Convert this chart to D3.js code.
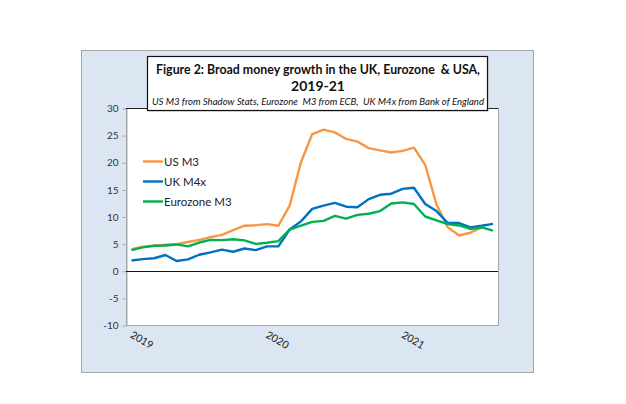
<!DOCTYPE html>
<html>
<head>
<meta charset="utf-8">
<script src="https://cdn.jsdelivr.net/npm/d3@7"></script>
<style>
  body { margin: 0; background: #fff; }
  svg { display: block; font-family: Lato, "Open Sans", sans-serif; }
  .pre { white-space: pre; }
</style>
</head>
<body>
<div id="chart"></div>
<script>
// monthly, Jan 2019 .. Sep 2021
const months = d3.range(33)
const us_m3 = [4.0, 4.45, 4.6, 4.8, 4.9, 5.3, 5.7, 6.2, 6.6, 7.5, 8.3, 8.4, 8.6, 8.3, 12.0, 20.0,
    25.2, 26.0, 25.5, 24.3, 23.8, 22.6, 22.2, 21.8, 22.1, 22.7, 19.5, 12.2, 8.0, 6.5, 7.0, 8.0]
const uk_m4x = [1.9, 2.15, 2.3, 2.9, 1.8, 2.1, 2.95, 3.4, 3.9, 3.5, 4.1, 3.8, 4.5, 4.5, 7.6, 9.1,
    11.4, 12.0, 12.5, 11.8, 11.7, 13.2, 14.0, 14.2, 15.1, 15.3, 12.3, 11.0, 8.8, 8.8, 8.0, 8.3, 8.65]
const ez_m3 = [3.8, 4.3, 4.6, 4.65, 4.85, 4.5, 5.2, 5.7, 5.65, 5.8, 5.6, 4.95, 5.15, 5.45, 7.6, 8.3,
    9.0, 9.2, 10.1, 9.6, 10.3, 10.5, 11.0, 12.4, 12.6, 12.3, 10.0, 9.3, 8.6, 8.35, 7.7, 8.0, 7.4]
const year_ticks = [0, 12, 24]
const year_labels = ["2019", "2020", "2021"]
const y_ticks = d3.range(-10, 31, 5)

const series = [
    {name: "US M3", values: us_m3, color: "#f79646"},
    {name: "UK M4x", values: uk_m4x, color: "#0070c0"},
    {name: "Eurozone M3", values: ez_m3, color: "#00b050"}
]

const W = 626, H = 404
const svg = d3.select("#chart").append("svg")
    .attr("width", W)
    .attr("height", H)

// chart area background
svg.append("rect")
    .attr("x", 81.5).attr("y", 50.5)
    .attr("width", 452).attr("height", 322)
    .attr("fill", "#dce6f2")
    .attr("stroke", "#a5a5a5")

const plot = {left: 126, right: 498, top: 108, bottom: 325}

svg.append("rect")
    .attr("x", plot.left + 0.5).attr("y", plot.top + 0.5)
    .attr("width", plot.right - plot.left).attr("height", plot.bottom - plot.top)
    .attr("fill", "#fff")
    .attr("stroke", "#a6a6a6")

const x = d3.scaleLinear()
    .domain([0, 32])
    .range([131.5, 493])
const y = d3.scaleLinear()
    .domain([-10, 30])
    .range([plot.bottom, plot.top])

// y axis
const yAxis = svg.append("g")
    .attr("transform", "translate(" + (plot.left + 0.5) + ",0.5)")
    .call(d3.axisLeft(y)
        .tickValues(y_ticks)
        .tickFormat((d) => String(d))
        .tickSizeInner(4)
        .tickSizeOuter(0)
        .tickPadding(4)
    )
yAxis.select(".domain").attr("stroke", "#a6a6a6")
yAxis.selectAll("line").attr("stroke", "#a6a6a6")
yAxis.selectAll("text")
    .attr("fill", "#333")
    .style("font-size", "10px")
    .style("font-family", "Lato, 'Open Sans', sans-serif")

// top edge drawn dark
svg.append("line")
    .attr("x1", plot.left).attr("x2", plot.right)
    .attr("y1", plot.top + 0.5).attr("y2", plot.top + 0.5)
    .attr("stroke", "#222")

// zero line
svg.append("line")
    .attr("x1", plot.left).attr("x2", plot.right)
    .attr("y1", Math.round(y(0)) + 0.5).attr("y2", Math.round(y(0)) + 0.5)
    .attr("stroke", "#111")
    .attr("stroke-width", 1.2)

// year labels, rotated
svg.selectAll(".year")
    .data(year_ticks)
    .enter()
    .append("text")
    .attr("class", "year")
    .attr("transform", (d) => "translate(" + (x(d) - 2) + "," + 337 + ") rotate(30)")
    .attr("fill", "#222")
    .style("font-size", "10.5px")
    .text((d, i) => year_labels[i])

// lines
const line = d3.line()
    .x((d, i) => x(months[i]))
    .y((d) => y(d))

series.forEach((s) => {
    svg.append("path")
        .datum(s.values)
        .attr("fill", "none")
        .attr("stroke", s.color)
        .attr("stroke-width", 2.4)
        .attr("stroke-linejoin", "round")
        .attr("d", line)
})

// legend
series.forEach((s, i) => {
    const ly = 161.5 + i * 20
    svg.append("line")
        .attr("x1", 143).attr("x2", 163)
        .attr("y1", ly).attr("y2", ly)
        .attr("stroke", s.color)
        .attr("stroke-width", 2.4)
    svg.append("text")
        .attr("x", 164).attr("y", ly + 4)
        .attr("fill", "#222")
        .style("font-size", "11.5px")
        .text(s.name)
})

// title box
svg.append("rect")
    .attr("x", 148.5).attr("y", 57.5)
    .attr("width", 340).attr("height", 54)
    .attr("fill", "#c8c8c8")
svg.append("rect")
    .attr("x", 147.5).attr("y", 56.5)
    .attr("width", 340).attr("height", 54)
    .attr("fill", "#fff")
    .attr("stroke", "#111")
    .attr("stroke-width", 1.2)

svg.append("text")
    .attr("class", "pre")
    .attr("x", 318).attr("y", 74)
    .attr("text-anchor", "middle")
    .attr("textLength", 324)
    .attr("lengthAdjust", "spacingAndGlyphs")
    .style("font-size", "14px")
    .style("font-weight", "bold")
    .attr("fill", "#111")
    .text("Figure 2: Broad money growth in the UK, Eurozone  & USA,")
svg.append("text")
    .attr("x", 318).attr("y", 91)
    .attr("text-anchor", "middle")
    .style("font-size", "14px")
    .style("font-weight", "bold")
    .attr("fill", "#111")
    .text("2019-21")
svg.append("text")
    .attr("class", "pre")
    .attr("x", 318).attr("y", 105)
    .attr("text-anchor", "middle")
    .attr("textLength", 332)
    .attr("lengthAdjust", "spacingAndGlyphs")
    .style("font-size", "9.5px")
    .style("font-style", "italic")
    .attr("fill", "#111")
    .text("US M3 from Shadow Stats, Eurozone  M3 from ECB,  UK M4x from Bank of England")
</script>
</body>
</html>
